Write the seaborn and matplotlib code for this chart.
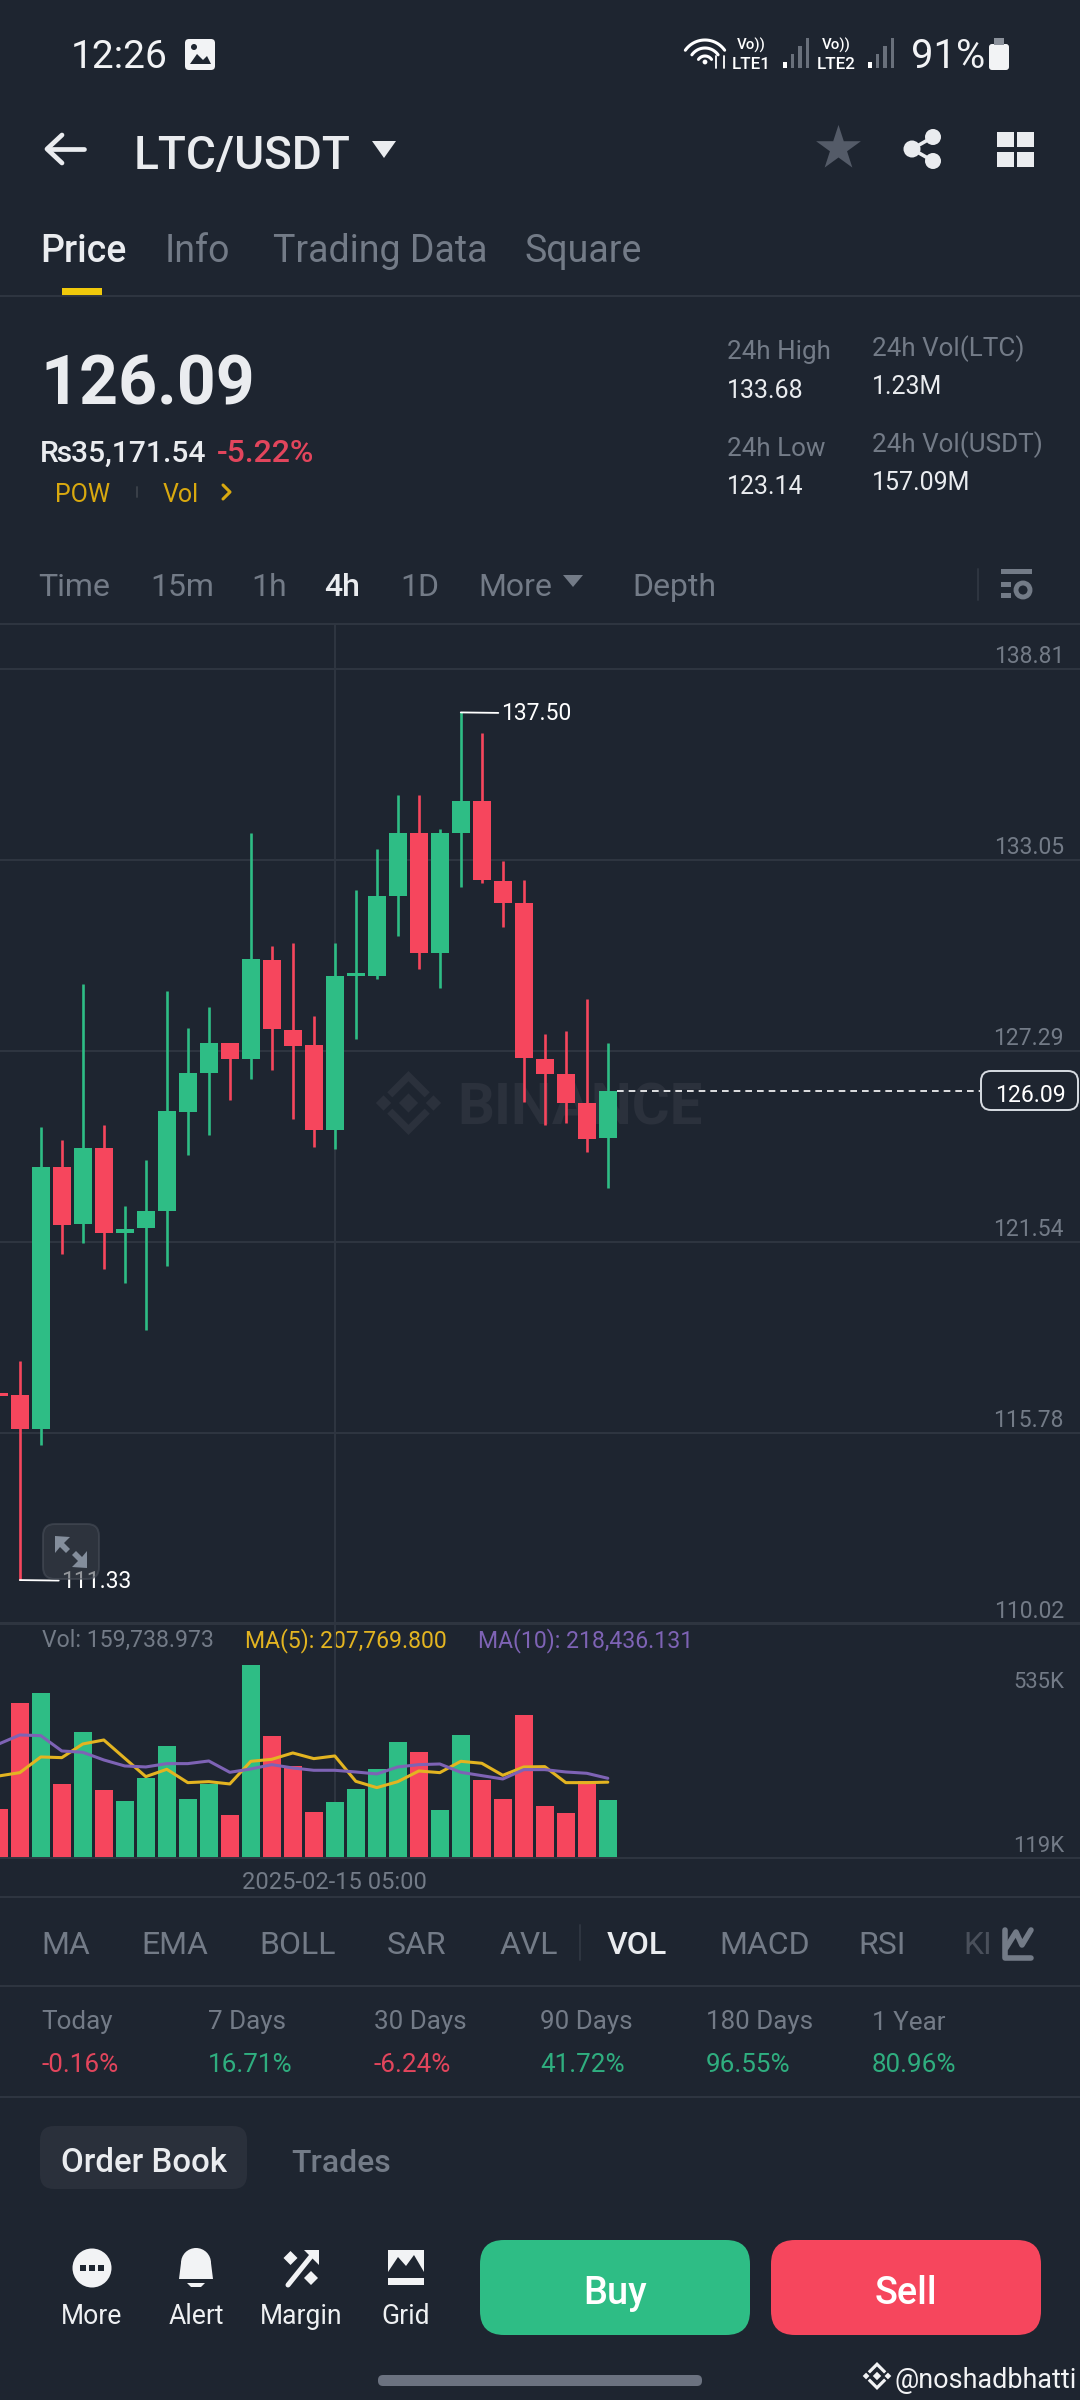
"""LTC/USDT 4h candles screen rebuilt with seaborn and matplotlib."""
import numpy as np
import pandas as pd
import matplotlib
matplotlib.use("Agg")
import matplotlib.pyplot as plt
from matplotlib.patches import FancyBboxPatch, Rectangle, Polygon, Circle
import seaborn as sns

# candles, index -1 is the one cut off at the left edge
candle_idx = list(range(-1, 29))
opens = [116.98, 116.92, 115.88, 123.80, 122.06, 124.37, 121.79, 121.94, 122.46, 125.46,
         126.62, 127.54, 127.04, 130.04, 127.93, 127.46, 124.91, 129.56, 129.56, 131.97,
         133.86, 130.25, 133.87, 134.82, 132.43, 131.76, 127.06, 126.60, 125.72, 124.65]
closes = [116.89, 115.88, 123.80, 122.04, 124.36, 121.79, 121.92, 122.46, 125.48, 126.62,
          127.52, 127.04, 130.06, 127.95, 127.45, 124.91, 129.54, 129.63, 131.96, 133.86,
          130.25, 133.86, 134.82, 132.45, 131.76, 127.07, 126.60, 125.72, 124.64, 126.09]
highs = [118.88, 117.95, 125.01, 124.59, 129.31, 125.06, 122.62, 124.00, 129.11, 127.98,
         128.61, 127.54, 133.86, 130.46, 130.56, 128.35, 130.54, 132.15, 133.38, 135.00,
         135.00, 133.98, 137.50, 136.89, 133.01, 132.45, 127.81, 127.89, 128.86, 127.52]
lows = [116.10, 111.33, 115.41, 121.17, 121.51, 120.71, 120.28, 118.86, 120.79, 124.15,
        124.76, 125.81, 126.44, 126.70, 125.24, 124.40, 124.33, 127.66, 129.46, 130.77,
        129.76, 129.20, 132.24, 132.35, 131.03, 125.76, 125.05, 125.13, 124.24, 123.15]

# volume panel
volumes = [133.7, 423.9, 452.1, 202.9, 343.9, 185.6, 155.6, 219.2, 305.7, 161.9,
           202.9, 118.3, 527.6, 333.9, 252.0, 125.5, 154.6, 188.3, 243.8, 317.5,
           289.3, 132.8, 336.6, 213.8, 161.0, 390.3, 143.7, 122.8, 211.1, 159.7]
ma5 = [224.7, 233.8, 276.6, 274.7, 312.0, 322.9, 272.9, 222.9, 242.9, 206.5,
       209.2, 202.9, 264.7, 270.2, 287.5, 272.0, 279.3, 210.1, 192.9, 209.2,
       238.3, 233.8, 264.7, 259.3, 226.5, 249.3, 250.2, 206.5, 206.5, 207.8]
ma10 = [312.0, 336.6, 334.8, 292.9, 289.3, 268.4, 252.0, 249.3, 258.4, 258.4,
        265.6, 234.7, 243.8, 255.6, 246.5, 240.2, 240.2, 235.6, 230.2, 249.3,
        255.6, 257.4, 234.7, 225.6, 216.5, 242.0, 242.0, 235.6, 232.0, 218.4]

price_ticks = [138.81, 133.05, 127.29, 121.54, 115.78, 110.02]
last_price = 126.09
high_mark = 137.50
low_mark = 111.33
date_label = "2025-02-15 05:00"

BG = "#1e2530"
GREEN = "#2ebd85"
RED = "#f6465d"
YELLOW = "#f0b90b"
PURPLE = "#7e63b5"
GRID = "#2f3641"
GREY = "#848e9c"
DIM = "#737b87"
WHITE = "#eaecef"

sns.set_theme(style="dark", rc={"figure.facecolor": BG, "axes.facecolor": BG})
plt.rcParams["font.family"] = ["Roboto", "DejaVu Sans"]
plt.rcParams["patch.force_edgecolor"] = False
plt.rcParams["patch.edgecolor"] = "none"
plt.rcParams["patch.linewidth"] = 0

W, H = 1080, 2400
fig = plt.figure(figsize=(W / 100, H / 100), dpi=100)


def px_axes(top, bottom, z):
    ax = fig.add_axes([0, 1 - bottom / H, 1, (bottom - top) / H], zorder=z)
    ax.patch.set_visible(False)
    return ax


# layer with the whole app screen in pixel coordinates
ui = px_axes(0, H, 0)
ui.set_xlim(0, W)
ui.set_ylim(H, 0)
ui.axis("off")
ui.set_autoscale_on(False)


def txt(x, y, s, size, color=GREY, weight="normal", ha="left", ax=ui, **kw):
    return ax.text(x, y, s, fontsize=size * 0.72, color=color, fontweight=weight,
                   ha=ha, va="center_baseline", **kw)


def hline(y, color=GRID, lw=1.4):
    ui.plot([0, W], [y, y], color=color, lw=lw, solid_capstyle="butt")


def rbox(x0, y0, x1, y1, r, ax=ui, **kw):
    ax.add_patch(FancyBboxPatch((x0 + r, y0 + r), x1 - x0 - 2 * r, y1 - y0 - 2 * r,
                                boxstyle=f"round,pad={r}", **kw))


def arc(cx, cy, r, lw, color="white"):
    t = np.radians(np.linspace(215, 325, 30))
    ui.plot(cx + r * np.cos(t), cy + r * np.sin(t), color=color, lw=lw, solid_capstyle="round")


def diamond(cx, cy, s, color):
    ui.add_patch(Polygon([[cx - s, cy], [cx, cy - s], [cx + s, cy], [cx, cy + s]], fc=color))


def logo(cx, cy, s, color):
    # outer chevrons are a big diamond with the middle and the sides cut out
    diamond(cx, cy, s, color)
    diamond(cx, cy, s * 0.68, BG)
    diamond(cx - s * 0.75, cy, s * 0.42, BG)
    diamond(cx + s * 0.75, cy, s * 0.42, BG)
    diamond(cx, cy, s * 0.3, color)
    diamond(cx - s * 0.78, cy, s * 0.24, color)
    diamond(cx + s * 0.78, cy, s * 0.24, color)


# status bar
txt(71, 53, "12:26", 39, "#f2f3f5")
rbox(185, 39, 215, 70, 4, fc="#f2f3f5", ec="none")
ui.add_patch(Polygon([[190, 64], [197, 54], [203, 60], [207, 56], [211, 64]], fc=BG))
ui.add_patch(Circle((194, 47), 3, fc=BG))
for r, lw in [(24, 2.2), (16, 2.2), (8, 2.2)]:
    arc(705, 64, r, lw)
ui.add_patch(Circle((705, 62), 2.4, fc="white"))
ui.plot([716, 716], [56, 68], color="white", lw=1.3)
ui.plot([724, 724], [56, 68], color="white", lw=1.3)
txt(737, 44, "Vo))", 15, "white", "medium")
txt(732, 63, "LTE1", 17, "white", "medium")
txt(822, 44, "Vo))", 15, "white", "medium")
txt(817, 63, "LTE2", 17, "white", "medium")
for x0 in (783, 868):
    for i in range(4):
        c = "white" if i == 0 else "#69707b"
        ui.add_patch(Rectangle((x0 + i * 7.5, 68), 3.5, -(6 + i * 8), fc=c))
txt(911, 53, "91%", 40, "#f2f3f5")
rbox(989, 44, 1009, 70, 3, fc="#f2f3f5", ec="none")
ui.add_patch(Rectangle((994, 38), 10, 7, fc="#8b919b"))

# header row
ui.plot([84, 48], [149, 149], color=WHITE, lw=3.4)
ui.plot([62, 47, 62], [135, 149, 163], color=WHITE, lw=3.4)
txt(134, 151, "LTC/USDT", 46, WHITE, "medium")
ui.add_patch(Polygon([[372, 141], [396, 141], [384, 158]], fc=WHITE))
ui.scatter([838], [148], marker="*", s=1150, color="#545b68", linewidths=0)
for a, b in [((912, 149), (933, 137)), ((912, 149), (933, 161))]:
    ui.plot(*zip(a, b), color=WHITE, lw=2.6)
for p, r in [((912, 149), 8.5), ((933, 137), 8), ((933, 161), 8)]:
    ui.add_patch(Circle(p, r, fc=WHITE))
for x0, y0 in [(997, 132), (1017, 132), (997, 152), (1017, 152)]:
    ui.add_patch(Rectangle((x0, y0), 17, 15, fc=WHITE))

# tabs
for x, s, c, w in [(40, "Price", WHITE, "medium"), (165, "Info", DIM, "normal"),
                   (273, "Trading Data", DIM, "normal"), (525, "Square", DIM, "normal")]:
    txt(x, 248, s, 37.5, c, w)
ui.add_patch(Rectangle((62, 288), 40, 8, fc="#f0c90b"))
hline(296)

# price summary
txt(40, 379, "126.09", 68, WHITE, "bold")
txt(40, 451, "₨35,171.54", 30, WHITE, "medium")
txt(217, 451, "-5.22%", 32, "#e2455c", "medium")
txt(55, 492, "POW", 25, "#d9a90f")
ui.plot([137, 137], [487, 497], color="#3a4049", lw=1.4)
txt(163, 492, "Vol", 25, "#d9a90f")
ui.plot([223, 230, 223], [485, 492, 499], color="#d9a90f", lw=2.2)
for x, a, av, b, bv, ya, yb in [(727, "24h High", "133.68", "24h Low", "123.14", 350, 447),
                                (872, "24h Vol(LTC)", "1.23M", "24h Vol(USDT)", "157.09M", 346, 442)]:
    txt(x, ya, a, 26, DIM)
    txt(x, ya + 38, av, 25, WHITE)
    txt(x, yb, b, 26, DIM)
    txt(x, yb + 38, bv, 25, WHITE)

# interval row
for x, s in [(38, "Time"), (150, "15m"), (251, "1h"), (400, "1D"), (478, "More"), (632, "Depth")]:
    txt(x, 585, s, 32, DIM)
txt(324, 585, "4h", 32, WHITE, "medium")
ui.add_patch(Polygon([[563, 575], [583, 575], [573, 587]], fc=DIM))
ui.plot([978, 978], [569, 600], color=GRID, lw=1.4)
ui.add_patch(Rectangle((1001, 569), 31, 5, fc=DIM))
ui.add_patch(Rectangle((1001, 582), 10, 5, fc=DIM))
ui.add_patch(Rectangle((1001, 593), 10, 5, fc=DIM))
ui.add_patch(Circle((1023, 590), 7, fc=BG, ec=DIM, lw=3.5))
hline(624)

# watermark below the candles
logo(408.5, 1103, 32, "#2b313c")
txt(457, 1103, "BINANCE", 58, "#2b313c", "bold")

# price panel
XLIM = (-19.8 / 21, (W - 19.8) / 21)
ax_price = px_axes(624, 1623.5, 1)
up = [c >= o for o, c in zip(opens, closes)]
colors = [GREEN if u else RED for u in up]
ax_price.vlines(candle_idx, lows, highs, colors=colors, lw=1.9, zorder=3)
body_low = np.minimum(opens, closes)
body_h = np.abs(np.array(closes) - np.array(opens))
ax_price.bar(candle_idx, body_h, bottom=body_low, width=0.88, color=colors, linewidth=0, zorder=3)
ax_price.set_xlim(*XLIM)
ax_price.set_ylim(110.02, 138.81 + 45 / 33.16)
ax_price.set_yticks(price_ticks)
ax_price.set_xticks([15])
ax_price.grid(True, color=GRID, lw=1.4)
ax_price.tick_params(length=0, labelleft=False, labelbottom=False)
sns.despine(ax=ax_price, left=True, bottom=False, top=True, right=True)
ax_price.spines["bottom"].set_color(GRID)
ax_price.spines["bottom"].set_linewidth(1.4)
for p in price_ticks:
    ax_price.annotate(f"{p:.2f}", (1, p), xycoords=("axes fraction", "data"),
                      xytext=(-11.5, 8.8), textcoords="offset points", ha="right",
                      va="center", fontsize=16.5, color=DIM)
ax_price.hlines(last_price, 28.45, 45.72, color="white", lw=1.2, linestyles=(0, (4, 3)), zorder=4)
for idx, val, off in [(21, high_mark, 29), (0, low_mark, 30)]:
    ax_price.annotate(f"{val:.2f}", (idx, val), xytext=(off, -0.7), textcoords="offset points",
                      va="center", fontsize=16.5, color="white",
                      arrowprops=dict(arrowstyle="-", color="white", lw=1.3,
                                      shrinkA=0, shrinkB=0), zorder=5)

# volume panel
ax_vol = px_axes(1623.5, 1858.3, 1)
df = pd.DataFrame({"idx": candle_idx, "vol": volumes, "ma5": ma5, "ma10": ma10,
                   "dir": ["up" if u else "down" for u in up]})
sns.barplot(data=df, x="idx", y="vol", hue="dir", palette={"up": GREEN, "down": RED},
            native_scale=True, dodge=False, width=0.88, saturation=1, linewidth=0,
            legend=False, ax=ax_vol)
sns.lineplot(data=df, x="idx", y="ma5", color="#e3b421", lw=2.2, ax=ax_vol)
sns.lineplot(data=df, x="idx", y="ma10", color=PURPLE, lw=2.2, ax=ax_vol)
ax_vol.set_xlim(*XLIM)
ax_vol.set_ylim(0, 640.8)
ax_vol.set_xticks([15], [date_label])
ax_vol.set_yticks([])
ax_vol.set_xlabel("")
ax_vol.set_ylabel("")
ax_vol.grid(True, axis="x", color=GRID, lw=1.4)
ax_vol.tick_params(axis="x", length=0, pad=9, labelsize=17, labelcolor=DIM)
sns.despine(ax=ax_vol, left=True, top=True, right=True)
ax_vol.spines["bottom"].set_color(GRID)
ax_vol.spines["bottom"].set_linewidth(1.4)

txt(42, 1638, "Vol: 159,738.973", 23, DIM)
txt(245, 1638, "MA(5): 207,769.800", 23, "#e3b421")
txt(478, 1638, "MA(10): 218,436.131", 23, PURPLE)
txt(1064, 1680, "535K", 22, DIM, ha="right")
txt(1064, 1844, "119K", 22, DIM, ha="right")

# indicator tabs
hline(1897)
for x, s in [(41, "MA"), (141, "EMA"), (259, "BOLL"), (387, "SAR"), (499, "AVL"),
             (719, "MACD"), (858, "RSI")]:
    txt(x, 1943, s, 32, DIM)
txt(607, 1943, "VOL", 32, WHITE, "medium")
txt(963, 1943, "KI", 32, "#4a505b")
ui.plot([580, 580], [1925, 1960], color=GRID, lw=1.4)
ui.plot([1005, 1005, 1031], [1930, 1958, 1958], color=DIM, lw=4)
ui.plot([1006, 1016, 1022, 1031], [1948, 1932, 1945, 1930], color=DIM, lw=4)
hline(1986)

# returns table
return_labels = ["Today", "7 Days", "30 Days", "90 Days", "180 Days", "1 Year"]
return_values = ["-0.16%", "16.71%", "-6.24%", "41.72%", "96.55%", "80.96%"]
return_x = [41, 208, 374, 540, 706, 872]
for x, lab, val in zip(return_x, return_labels, return_values):
    txt(x, 2020, lab, 26, DIM)
    txt(x, 2062, val, 26, "#e2455c" if val.startswith("-") else "#2fae7f")
hline(2097)

# order book tabs
rbox(40, 2126, 247, 2189, 14, fc="#2a303b", ec="none")
txt(61, 2160, "Order Book", 33, WHITE, "medium")
txt(291, 2160, "Trades", 32, DIM, "medium")

# bottom bar
ICON = "#f2f3f5"
ui.add_patch(Circle((92, 2268), 19.5, fc=ICON))
for dx in (-9, 0, 9):
    ui.add_patch(Rectangle((92 + dx - 3, 2265), 6, 6, fc=BG))
ui.add_patch(Circle((196, 2263), 15, fc=ICON))
ui.add_patch(Polygon([[181, 2263], [211, 2263], [213, 2279], [179, 2279]], fc=ICON))
ui.add_patch(Polygon([[187, 2283], [205, 2283], [201, 2287], [191, 2287]], fc=ICON))
diamond(290.5, 2258, 7, ICON)
diamond(311, 2278, 7, ICON)
ui.plot([288, 313], [2285, 2254], color=ICON, lw=3.6)
ui.add_patch(Polygon([[304, 2250], [319, 2250], [319, 2265]], fc=ICON))
ui.add_patch(Rectangle((388, 2250), 36, 22, fc=ICON))
ui.add_patch(Polygon([[388, 2272], [398, 2257], [406, 2266], [414, 2255], [424, 2272]], fc=BG))
ui.add_patch(Rectangle((388, 2278), 36, 7, fc=ICON))
for x, s in [(92, "More"), (196, "Alert"), (301, "Margin"), (406, "Grid")]:
    txt(x, 2314, s, 26.5, "#eef0f2", ha="center")

rbox(480, 2240, 750, 2335, 24, fc=GREEN, ec="none")
rbox(771, 2240, 1041, 2335, 24, fc=RED, ec="none")
txt(615, 2290, "Buy", 38, "white", "medium", ha="center")
txt(906, 2290, "Sell", 38, "white", "medium", ha="center")

rbox(378, 2375, 702, 2386, 5, fc="#6b7280", ec="none")
logo(877, 2376, 14, ICON)
txt(894, 2378, "@noshadbhatti", 27, ICON)

# expand button and last price tag sit above the candles
top = px_axes(0, H, 5)
top.set_xlim(0, W)
top.set_ylim(H, 0)
top.axis("off")
rbox(43, 1524, 99, 1579, 12, ax=top, fc="#3a4049", ec="#4b515c", lw=1.4, alpha=0.55)
top.add_patch(Polygon([[55, 1536], [70, 1537], [64, 1543], [70, 1549], [66, 1553], [60, 1547], [55, 1553]], fc="#848e9c"))
top.add_patch(Polygon([[87, 1568], [72, 1567], [78, 1561], [72, 1555], [76, 1551], [82, 1557], [87, 1551]], fc="#848e9c"))
rbox(981, 1071, 1078, 1110, 10, ax=top, fc=BG, ec="#d8dce2", lw=1.4)
txt(1030, 1093, f"{last_price:.2f}", 23, "white", ha="center", ax=top)

fig.savefig("out.png", dpi=100, facecolor=BG)
